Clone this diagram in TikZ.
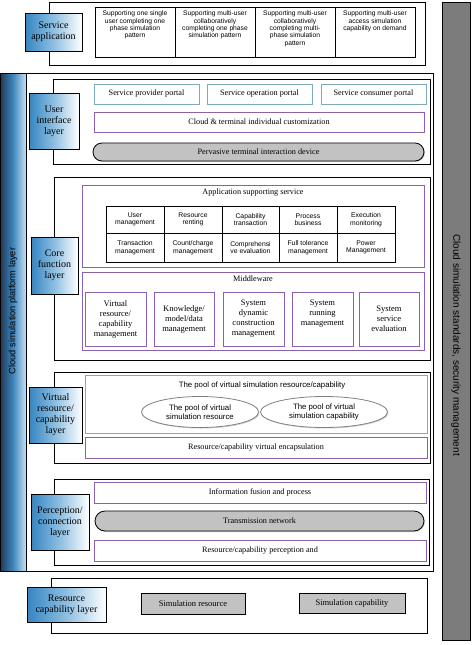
\documentclass[tikz,border=0pt]{standalone}
\usepackage{fontspec}
\setmainfont{Liberation Serif}
\newfontfamily\sansf{Liberation Sans}
\usetikzlibrary{shadows,shapes.geometric}
\definecolor{purp}{HTML}{8B62A8}
\definecolor{tealb}{HTML}{7FAAB8}
\definecolor{labblue}{HTML}{3585C2}
\definecolor{labmid}{HTML}{8FBFE0}
\definecolor{pillgray}{HTML}{C2C2C2}
\definecolor{bargray}{HTML}{7C7C7C}
\definecolor{navy}{HTML}{1D3A5A}
\definecolor{midblue}{HTML}{3F86BD}
\definecolor{lightblue}{HTML}{C8DFEF}
\newcommand\mybox[7]{\node[#2, minimum width={(#5)-(#3)}, minimum height={(#6)-(#4)}] (#1) at ({((#3)+(#5))/2},{((#4)+(#6))/2}) {#7};}
\begin{document}
\begin{tikzpicture}[x=1pt,y=-1pt,
  every node/.style={inner sep=0pt, align=center},
  shad/.style={drop shadow={shadow xshift=1pt, shadow yshift=-1pt, opacity=0.35}},
  layer/.style={draw=black, line width=0.9pt, fill=white, shad},
  lab/.style={draw=black, line width=0.9pt, left color=labblue, right color=white, middle color=labmid, shad, font=\fontsize{10}{11}\selectfont},
  pbox/.style={draw=purp, line width=1pt, fill=white, shad, font=\fontsize{8.2}{9.5}\selectfont},
  mbox/.style={draw=purp, line width=1pt, fill=white, shad, font=\fontsize{8.5}{10}\selectfont},
  tbox/.style={draw=tealb, line width=1pt, fill=white, shad, font=\fontsize{8.2}{9.5}\selectfont},
  gpill/.style={draw=black, line width=0.8pt, fill=pillgray, rounded corners=9pt, shad, font=\fontsize{8.2}{9.5}\selectfont},
  gbox/.style={draw=black, line width=0.8pt, fill=pillgray, shad, font=\fontsize{8.5}{10}\selectfont},
  cell/.style={draw=black, line width=0.8pt, fill=white},
  celltxt/.style={font=\sansf\fontsize{6.7}{7.4}\selectfont},
  tcell/.style={draw=black, line width=0.8pt, fill=white, font=\sansf\fontsize{6.8}{7.6}\selectfont},
  pool/.style={draw=gray, line width=0.8pt, fill=white, ellipse, shad, font=\sansf\fontsize{7.8}{9.5}\selectfont}
]
\useasboundingbox (0,0) rectangle (474,645);
\fill[white] (0,0) rectangle (474,645);

% right standards bar
\mybox{stdbar}{draw=black, line width=0.9pt, fill=bargray}{442}{2}{470}{640}{}
\node[rotate=-90, font=\sansf\fontsize{10}{11}\selectfont] (stdtxt) at (456,345) {Cloud simulation standards, security management};

% service application
\mybox{svc}{layer}{49}{2}{425}{65}{}
\mybox{c1}{cell}{95}{7}{175}{57}{}
\mybox{c2}{cell}{175}{7}{255}{57}{}
\mybox{c3}{cell}{255}{7}{335}{57}{}
\mybox{c4}{cell}{335}{7}{415}{57}{}
\node[celltxt, anchor=north] (t1) at ([yshift=-4pt]c1.north) {Supporting one single\\user completing one\\phase simulation\\pattern};
\node[celltxt, anchor=north] (t2) at ([yshift=-4pt]c2.north) {Supporting multi-user\\collaboratively\\completing one phase\\simulation pattern};
\node[celltxt, anchor=north] (t3) at ([yshift=-4pt]c3.north) {Supporting multi-user\\collaboratively\\completing multi-\\phase simulation\\pattern};
\node[celltxt, anchor=north] (t4) at ([yshift=-4pt]c4.north) {Supporting multi-user\\access simulation\\capability on demand};
\mybox{svclab}{lab}{25}{13}{82}{51}{Service\\application}

% platform
\mybox{plat}{draw=black, line width=0.9pt, fill=white}{0}{73}{433}{571}{}
\mybox{platbar}{draw=black, line width=0.6pt, left color=navy, right color=lightblue, middle color=midblue}{0}{73}{26}{571}{}
\node[rotate=90, font=\sansf\fontsize{9.2}{11}\selectfont] (plattxt) at (13,311) {Cloud simulation platform layer};

% user interface layer
\mybox{ui}{layer}{53}{79}{430}{164}{}
\mybox{spp}{tbox}{94}{84}{199}{104}{Service provider portal}
\mybox{sop}{tbox}{207}{84}{312}{104}{Service operation portal}
\mybox{scp}{tbox}{321}{84}{426}{104}{Service consumer portal}
\mybox{cust}{pbox}{94}{112}{424}{132}{Cloud \& terminal individual customization}
\mybox{ptid}{gpill}{93}{143}{424}{161}{Pervasive terminal interaction device}
\mybox{uilab}{lab}{29}{93}{79}{149}{User\\interface\\layer}

% core function layer
\mybox{core}{layer}{54}{177}{430}{360}{}
\mybox{ass}{pbox}{82}{185}{424}{267}{}
\node[font=\fontsize{8.2}{9.5}\selectfont] (asstxt) at (253,193) {Application supporting service};
\mybox{a1}{tcell}{106}{206}{164}{233}{User\\management}
\mybox{a2}{tcell}{164}{206}{222}{233}{Resource\\renting}
\mybox{a3}{tcell}{222}{206}{279}{233}{Capability\\transaction}
\mybox{a4}{tcell}{279}{206}{337}{233}{Process\\business}
\mybox{a5}{tcell}{337}{206}{395}{233}{Execution\\monitoring}
\mybox{b1}{tcell}{106}{233}{164}{262}{Transaction\\management}
\mybox{b2}{tcell}{164}{233}{222}{262}{Count/charge\\management}
\mybox{b3}{tcell}{222}{233}{279}{262}{Comprehensi\\ve evaluation}
\mybox{b4}{tcell}{279}{233}{337}{262}{Full tolerance\\management}
\mybox{b5}{tcell}{337}{233}{395}{262}{Power\\Management}
\mybox{mw}{pbox}{82}{272}{424}{350}{}
\node[font=\fontsize{8.2}{9.5}\selectfont] (mwtxt) at (253,279) {Middleware};
\mybox{m1}{mbox}{85}{292}{146}{346}{Virtual\\resource/\\capability\\management}
\mybox{m2}{mbox}{154}{292}{214}{346}{Knowledge/\\model/data\\management}
\mybox{m3}{mbox}{223}{292}{284}{346}{System\\dynamic\\construction\\management}
\mybox{m4}{mbox}{292}{292}{353}{346}{}
\node[font=\fontsize{8.5}{10}\selectfont] (m4t) at (322.5,314) {System\\running\\management};
\mybox{m5}{mbox}{359}{292}{419}{346}{System\\service\\evaluation}
\mybox{corelab}{lab}{31}{237}{78}{294}{Core\\function\\layer}

% virtual resource/capability layer
\mybox{vr}{layer}{54}{372}{430}{463}{}
\mybox{poolbox}{draw=tealb, line width=1pt, fill=white, shad}{85}{375}{427}{433}{}
\node[font=\sansf\fontsize{7.8}{9.5}\selectfont] (pooltxt) at (262,385) {The pool of virtual simulation resource/capability};
\node[pool, minimum width=117pt, minimum height=31pt] (poolr) at (200,412) {The pool of virtual\\simulation resource};
\node[pool, minimum width=127pt, minimum height=31pt] (poolc) at (324,412) {The pool of virtual\\simulation capability};
\mybox{enc}{pbox}{85}{437}{427}{458}{Resource/capability virtual encapsulation}
\mybox{vrlab}{lab}{29}{387}{82}{443}{Virtual\\resource/\\capability\\layer}

% perception/connection layer
\mybox{pc}{layer}{54}{479}{429}{565}{}
\mybox{ifp}{pbox}{94}{482}{426}{503}{Information fusion and process}
\mybox{tn}{gpill, rounded corners=10pt}{95}{511}{424}{531}{Transmission network}
\mybox{rcp}{pbox}{94}{540}{426}{561}{Resource/capability perception and}
\mybox{pclab}{lab}{31}{494}{89}{550}{Perception/\\connection\\layer}

% resource capability layer
\mybox{rc}{layer}{51}{578}{427}{633}{}
\mybox{sr}{gbox}{141}{593}{245}{614}{Simulation resource}
\mybox{sc}{gbox}{299}{593}{405}{613}{Simulation capability}
\mybox{rclab}{lab}{27}{587}{106}{622}{Resource\\capability layer}
\end{tikzpicture}
\end{document}
